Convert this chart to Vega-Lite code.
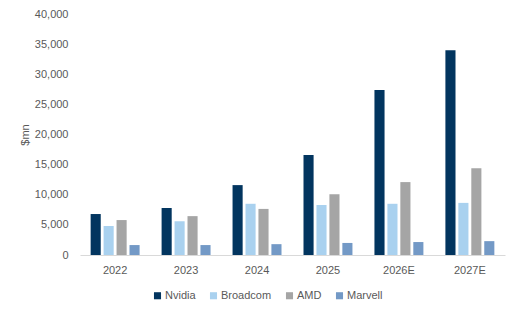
{
  "$schema": "https://vega.github.io/schema/vega-lite/v6.json",
  "width": 425,
  "height": 241,
  "autosize": {"type": "none"},
  "padding": {"left": 80, "top": 14, "right": 7, "bottom": 62},
  "background": "white",
  "config": {
    "font": "Liberation Sans",
    "view": {"stroke": null},
    "axis": {"labelFont": "Liberation Sans", "titleFont": "Liberation Sans"}
  },
  "data": {
    "values": [
      {"year": "2022", "company": "Nvidia", "value": 6800},
      {"year": "2022", "company": "Broadcom", "value": 4800},
      {"year": "2022", "company": "AMD", "value": 5800},
      {"year": "2022", "company": "Marvell", "value": 1650},
      {"year": "2023", "company": "Nvidia", "value": 7800},
      {"year": "2023", "company": "Broadcom", "value": 5600},
      {"year": "2023", "company": "AMD", "value": 6450},
      {"year": "2023", "company": "Marvell", "value": 1650},
      {"year": "2024", "company": "Nvidia", "value": 11600},
      {"year": "2024", "company": "Broadcom", "value": 8500},
      {"year": "2024", "company": "AMD", "value": 7650},
      {"year": "2024", "company": "Marvell", "value": 1800},
      {"year": "2025", "company": "Nvidia", "value": 16600},
      {"year": "2025", "company": "Broadcom", "value": 8300},
      {"year": "2025", "company": "AMD", "value": 10100},
      {"year": "2025", "company": "Marvell", "value": 2000},
      {"year": "2026E", "company": "Nvidia", "value": 27400},
      {"year": "2026E", "company": "Broadcom", "value": 8500},
      {"year": "2026E", "company": "AMD", "value": 12100},
      {"year": "2026E", "company": "Marvell", "value": 2150},
      {"year": "2027E", "company": "Nvidia", "value": 34000},
      {"year": "2027E", "company": "Broadcom", "value": 8650},
      {"year": "2027E", "company": "AMD", "value": 14400},
      {"year": "2027E", "company": "Marvell", "value": 2300}
    ]
  },
  "mark": {"type": "bar"},
  "encoding": {
    "x": {
      "field": "year",
      "type": "nominal",
      "sort": null,
      "scale": {"paddingInner": 0.31, "paddingOuter": 0.15},
      "axis": {
        "title": null,
        "labelAngle": 0,
        "ticks": false,
        "domainColor": "#D9D9D9",
        "domainWidth": 1,
        "labelColor": "#595959",
        "labelFontSize": 11,
        "labelPadding": 9
      }
    },
    "xOffset": {
      "field": "company",
      "type": "nominal",
      "sort": ["Nvidia", "Broadcom", "AMD", "Marvell"],
      "scale": {"paddingInner": 0.22}
    },
    "y": {
      "field": "value",
      "type": "quantitative",
      "scale": {"domain": [0, 40000], "nice": false},
      "axis": {
        "title": "$mn",
        "titleFontWeight": "normal",
        "titleColor": "#595959",
        "titleFontSize": 11,
        "titlePadding": 4,
        "values": [0, 5000, 10000, 15000, 20000, 25000, 30000, 35000, 40000],
        "format": ",.0f",
        "grid": false,
        "domain": false,
        "ticks": false,
        "labelColor": "#595959",
        "labelFontSize": 11,
        "labelPadding": 12
      }
    },
    "color": {
      "field": "company",
      "type": "nominal",
      "sort": ["Nvidia", "Broadcom", "AMD", "Marvell"],
      "scale": {
        "domain": ["Nvidia", "Broadcom", "AMD", "Marvell"],
        "range": ["#02355F", "#A9D1EF", "#A5A5A5", "#7399C6"]
      },
      "legend": {
        "title": null,
        "orient": "none",
        "direction": "horizontal",
        "legendX": 72,
        "legendY": 276,
        "symbolType": "square",
        "symbolSize": 50,
        "symbolStrokeWidth": 0,
        "labelColor": "#595959",
        "labelFontSize": 11,
        "labelOffset": 2,
        "columnPadding": 12
      }
    }
  }
}
